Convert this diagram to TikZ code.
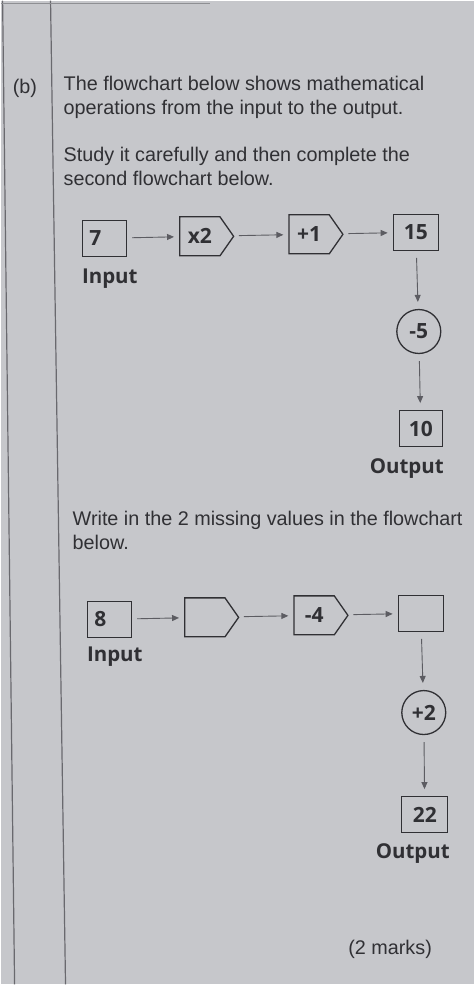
\documentclass[tikz,border=0pt]{standalone}
\usepackage{fontspec}
\setmainfont{Liberation Sans}
\newfontfamily\boxfont{Open Sans}
\usetikzlibrary{shapes.symbols, arrows.meta, positioning}

\definecolor{paper}{RGB}{198,199,203}
\definecolor{ink}{RGB}{48,48,52}
\definecolor{wire}{RGB}{92,92,98}
\definecolor{rule}{RGB}{105,105,110}

\begin{document}
\begin{tikzpicture}[
        x=1pt, y=-1pt,
        node distance=52pt,
        % Texto de la pregunta
        question/.style={
                anchor=base west,
                align=left,
                inner sep=0pt,
                text=ink,
                font=\fontsize{19.8}{24}\selectfont
            },
        % Cajas de valores
        valbox/.style={
                rectangle,
                draw=ink,
                line width=1.3pt,
                minimum width=44pt,
                minimum height=36pt,
                inner sep=0pt,
                text=ink,
                font=\boxfont\bfseries\fontsize{21}{21}\selectfont
            },
        % Operaciones (pentagono)
        opbox/.style={
                signal,
                signal to=east,
                signal pointer angle=110,
                draw=ink,
                line width=1.3pt,
                minimum width=54pt,
                minimum height=39pt,
                inner sep=0pt,
                text=ink,
                font=\boxfont\bfseries\fontsize{21}{21}\selectfont
            },
        % Operaciones (circulo)
        opcircle/.style={
                circle,
                draw=ink,
                line width=1.3pt,
                minimum size=44pt,
                inner sep=0pt,
                text=ink,
                font=\boxfont\bfseries\fontsize{21}{21}\selectfont
            },
        % Etiquetas Input / Output
        caption/.style={
                inner sep=0pt,
                text=ink,
                font=\boxfont\bfseries\fontsize{20.5}{21}\selectfont
            },
        % Flechas
        arrow/.style={
                -{Triangle[length=7pt,width=6pt]},
                draw=wire,
                line width=0.9pt,
                shorten <=5pt,
                shorten >=5pt
            },
        varrow/.style={
                arrow,
                shorten <=7pt,
                shorten >=7pt
            }
    ]

    % Fondo y margen de la hoja
    \fill[paper] (0,0) rectangle (474,985);
    \draw[rule, line width=1.2pt] (2,0) -- (14,985);
    \draw[rule, line width=1.2pt] (50,0) -- (65,985);
    \draw[rule!60!paper, line width=1.2pt] (0,3) -- (210,3);

    % Enunciado
    \node[question] (part) at (12,93) {(b)};
    \node[question] (intro) at (63,114) {The flowchart below shows mathematical\\operations from the input to the output.};
    \node[question] (study) at (63,185) {Study it carefully and then complete the\\second flowchart below.};

    % Primer diagrama
    \node[valbox, text width=30pt, align=left] (in1) at (104,238) {7};
    \node[opbox, right=of in1, yshift=2pt] (op1) {x2};
    \node[opbox, right=54pt of op1, yshift=2pt] (op2) {+1};
    \node[valbox, minimum width=45pt, right=49pt of op2, yshift=2pt] (mid1) {15};
    \node[opcircle, below=58pt of mid1, xshift=3pt] (circ1) {-5};
    \node[valbox, minimum width=43pt, below=56pt of circ1, xshift=2pt] (out1) {10};

    \node[caption, below=12pt of in1.south west, anchor=north west] (inlab1) {Input};
    \node[caption, below=11pt of out1.south, xshift=-14pt] (outlab1) {Output};

    \draw[arrow] (in1) -- (op1);
    \draw[arrow] (op1) -- (op2);
    \draw[arrow] (op2) -- (mid1);
    \draw[varrow] (mid1) -- (circ1);
    \draw[varrow] (circ1) -- (out1);

    % Instruccion
    \node[question] (task) at (72,550) {Write in the 2 missing values in the flowchart\\below.};

    % Segundo diagrama
    \node[valbox, text width=30pt, align=left] (in2) at (109,619.5) {8};
    \node[opbox, right=of in2, yshift=2pt] (op3) {};
    \node[opbox, right=54pt of op3, yshift=2pt] (op4) {-4};
    \node[valbox, minimum width=45pt, right=49pt of op4, yshift=2pt] (mid2) {};
    \node[opcircle, below=58pt of mid2, xshift=3pt] (circ2) {+2};
    \node[valbox, minimum width=46pt, below=61pt of circ2, xshift=1pt] (out2) {22};

    \node[caption, below=9pt of in2.south west, anchor=north west] (inlab2) {Input};
    \node[caption, below=10pt of out2.south, xshift=-12pt] (outlab2) {Output};

    \draw[arrow] (in2) -- (op3);
    \draw[arrow] (op3) -- (op4);
    \draw[arrow] (op4) -- (mid2);
    \draw[varrow] (mid2) -- (circ2);
    \draw[varrow] (circ2) -- (out2);

    % Puntuacion
    \node[question] (marks) at (348,955) {(2 marks)};

\end{tikzpicture}
\end{document}
